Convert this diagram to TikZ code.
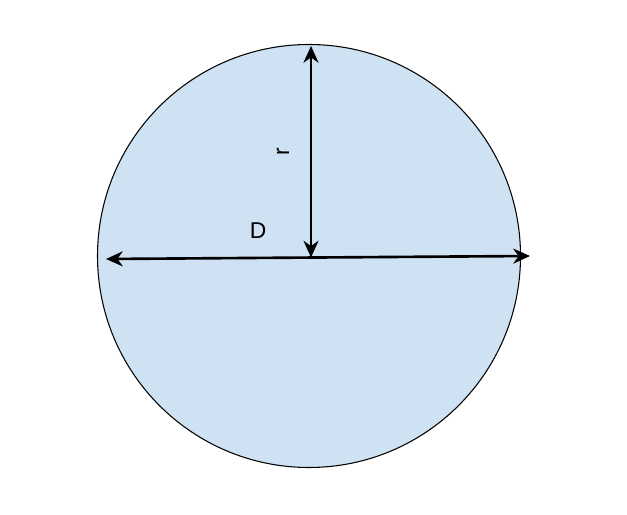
\documentclass[tikz,border=0pt]{standalone}
\usepackage{fontspec}
\setmainfont{Liberation Sans}
\usepackage{xcolor}
\definecolor{colorDisk}{RGB}{207,226,243}
\usetikzlibrary{arrows.meta}
\tikzset{dimline/.style={<->, line width=1.5pt}}

\begin{document}
\begin{tikzpicture}[>={Stealth[length=9.5pt, width=8.5pt, inset=3pt]}, every node/.style={font=\fontsize{13}{15}\selectfont}]
\useasboundingbox (0,0) rectangle (12.54,10.28);
\node[circle, draw, line width=0.6pt, fill=colorDisk, minimum size=8.46cm, inner sep=0pt] (disk) at (6.18,5.16) {};
\coordinate (dLeft) at (2.12,5.10);
\coordinate (dRight) at (10.60,5.16);
\coordinate (rTop) at (6.22,9.36);
\coordinate (rFoot) at (6.22,5.13);
\draw [dimline] (dLeft) -- (dRight);
\draw [dimline] (rFoot) -- (rTop);
\node[rotate=90] (rLabel) at (5.66,7.24) {r};
\node (dLabel) at (5.16,5.66) {D};
\end{tikzpicture}
\end{document}
